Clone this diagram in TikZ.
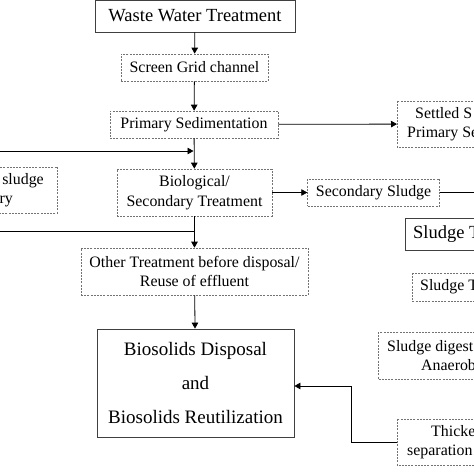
\documentclass[tikz,border=0pt]{standalone}
\usepackage{fontspec}
\setmainfont{Liberation Serif}
\usetikzlibrary{positioning, arrows.meta}

\tikzset{
    solidline/.style={draw=black!75, line width=0.8pt},
    dashline/.style={draw=black!55, dash pattern=on 2pt off 1.2pt, line width=0.6pt},
    stage/.style={solidline, inner sep=0pt, align=center, font=\fontsize{15.9}{19.5}\selectfont},
    substage/.style={dashline, inner sep=0pt, align=center, font=\fontsize{15.9}{19.5}\selectfont},
    cuttext/.style={anchor=west, align=left, inner ysep=0pt, font=\fontsize{15.9}{19.5}\selectfont},
    flow/.style={-{Triangle[length=6pt,width=6.5pt]}, line width=0.8pt},
    plain/.style={line width=0.8pt}
}

\begin{document}
\begin{tikzpicture}[x=1pt, y=-1pt]
            \useasboundingbox (0,0) rectangle (474,474);
            \clip (0,0) rectangle (474,474);

            \node [stage, minimum width=200pt, minimum height=32pt, font=\fontsize{18.5}{22}\selectfont] (wwt) at (195,16) {Waste Water Treatment};
            \node [substage, minimum width=147pt, minimum height=27pt] (grid) at (194.5,67.5) {Screen Grid channel};
            \node [substage, minimum width=168pt, minimum height=27pt] (prim) at (194,124.5) {Primary Sedimentation};
            \node [substage, minimum width=155pt, minimum height=47pt] (bio) at (194.5,192.5) {Biological/\\Secondary Treatment};
            \node [substage, minimum width=227pt, minimum height=47pt] (other) at (194.5,271.5) {Other Treatment before disposal/\\Reuse of effluent};
            \node [stage, minimum width=197pt, minimum height=108pt, font=\fontsize{19}{34}\selectfont] (bios) at (195.5,383) {Biosolids Disposal\\and\\Biosolids Reutilization};
            \node [substage, minimum width=132pt, minimum height=27pt, right=35pt of bio] (secsl) {Secondary Sludge};

            \node [cuttext, inner xsep=10pt, minimum height=46pt] (settled) at (397,124) {\hspace*{8pt}Settled S\\Primary Se};
            \node [cuttext, anchor=east, align=right, inner xsep=13pt, minimum height=46pt] (retsl) at (57,190) {sludge\\ry\hspace*{31pt}};
            \node [cuttext, inner xsep=8pt, minimum height=31pt, font=\fontsize{18.5}{22}\selectfont] (sltr) at (405,234.5) {Sludge T};
            \node [cuttext, inner xsep=8pt, minimum height=28pt] (slth) at (412,287) {Sludge T};
            \node [cuttext, inner xsep=9pt, minimum height=47pt] (digest) at (378,355.5) {Sludge digest\\\hspace*{34pt}Anaerob};
            \node [cuttext, inner xsep=10pt, minimum height=46pt] (thick) at (397,442) {\hspace*{24pt}Thicke\\separation};

            \draw [dashline] (settled.north west) rectangle ([xshift=150pt]settled.south west);
            \draw [dashline] (retsl.north east) rectangle ([xshift=-150pt]retsl.south east);
            \draw [solidline] (sltr.north west) rectangle ([xshift=150pt]sltr.south west);
            \draw [dashline] (slth.north west) rectangle ([xshift=150pt]slth.south west);
            \draw [dashline] (digest.north west) rectangle ([xshift=150pt]digest.south west);
            \draw [dashline] (thick.north west) rectangle ([xshift=150pt]thick.south west);

            \coordinate (retin) at (0,151);
            \coordinate (retout) at (0,231);
            \coordinate (secout) at (474,192);

            \draw [flow] (wwt) -- (grid);
            \draw [flow] (grid) -- (prim);
            \draw [flow] (prim) -- (bio);
            \draw [flow] (bio) -- (other);
            \draw [flow] (other) -- (bios);
            \draw [flow] (prim) -- (settled);
            \draw [flow] (bio) -- (secsl);
            \draw [plain] (secsl) -- (secsl.east -| secout);
            \draw [flow] (retin) -- ([xshift=-0.5pt]retin -| prim.south);
            \draw [plain] (retout) -- (retout -| bio.south);
            \draw [flow] (thick.west) -- ++(-46,0) |- ([yshift=-3pt]bios.east);
        \end{tikzpicture}
\end{document}
